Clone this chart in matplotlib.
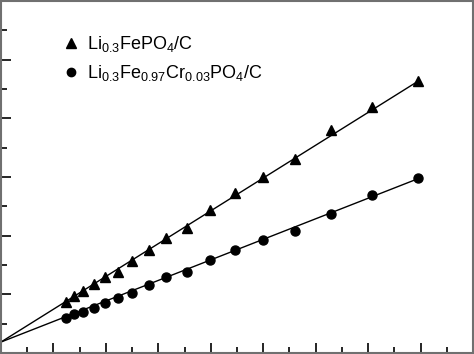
import matplotlib
matplotlib.use("Agg")
import matplotlib.pyplot as plt
from matplotlib.ticker import MultipleLocator, NullFormatter
from matplotlib.lines import Line2D

plt.rcParams['font.family'] = ['Liberation Sans', 'DejaVu Sans']
plt.rcParams['mathtext.fontset'] = 'custom'
plt.rcParams['mathtext.rm'] = 'Liberation Sans'
plt.rcParams['mathtext.default'] = 'regular'

x_vals = [1.244, 1.396, 1.573, 1.770, 1.991, 2.226, 2.504, 2.820, 3.150,
          3.542, 3.979, 4.460, 5.005, 5.613, 6.296, 7.081, 7.949]
y_lfp = [0.872, 0.969, 1.054, 1.168, 1.287, 1.383, 1.565, 1.763, 1.956,
         2.126, 2.444, 2.733, 2.998, 3.311, 3.793, 4.189, 4.631]
y_cr = [0.590, 0.663, 0.703, 0.765, 0.856, 0.930, 1.026, 1.151, 1.287,
        1.389, 1.582, 1.752, 1.927, 2.087, 2.376, 2.699, 2.976]

fit_x = [0.0, 7.949]
fit_lfp = [0.187, 4.631]
fit_cr = [0.187, 2.970]

label_lfp = "Li$_{0.3}$FePO$_{4}$/C"
label_cr = "Li$_{0.3}$Fe$_{0.97}$Cr$_{0.03}$PO$_{4}$/C"

fig = plt.figure(figsize=(4.74, 3.54), dpi=100)
ax = fig.add_axes([1/474, 1/354, 472/474, 352/354])

ax.plot(fit_x, fit_lfp, color='black', lw=1.0, zorder=2)
ax.plot(fit_x, fit_cr, color='black', lw=1.0, zorder=2)
ax.plot(x_vals, y_lfp, linestyle='none', marker='^', ms=7.5, color='black', zorder=3)
ax.plot(x_vals, y_cr, linestyle='none', marker='o', ms=6.5, color='black', zorder=3)

ax.set_xlim(0, 9)
ax.set_ylim(0, 6)
ax.xaxis.set_major_locator(MultipleLocator(1))
ax.xaxis.set_minor_locator(MultipleLocator(0.5))
ax.yaxis.set_major_locator(MultipleLocator(1))
ax.yaxis.set_minor_locator(MultipleLocator(0.5))
ax.xaxis.set_major_formatter(NullFormatter())
ax.yaxis.set_major_formatter(NullFormatter())
ax.tick_params(which='major', direction='in', length=7, width=1.2, color='black')
ax.tick_params(which='minor', direction='in', length=4.5, width=1.2, color='black')
for s in ax.spines.values():
    s.set_color('#707070')
    s.set_linewidth(1.5)

handles = [Line2D([], [], linestyle='none', marker='^', ms=7, color='black'),
           Line2D([], [], linestyle='none', marker='o', ms=6, color='black')]
ax.legend(handles, [label_lfp, label_cr], loc='upper left',
          bbox_to_anchor=(0.1285, 0.905), frameon=False, fontsize=13,
          handlelength=1.0, handletextpad=0.38, labelspacing=0.5,
          borderaxespad=0, borderpad=0)

fig.savefig('out.png', dpi=100)
